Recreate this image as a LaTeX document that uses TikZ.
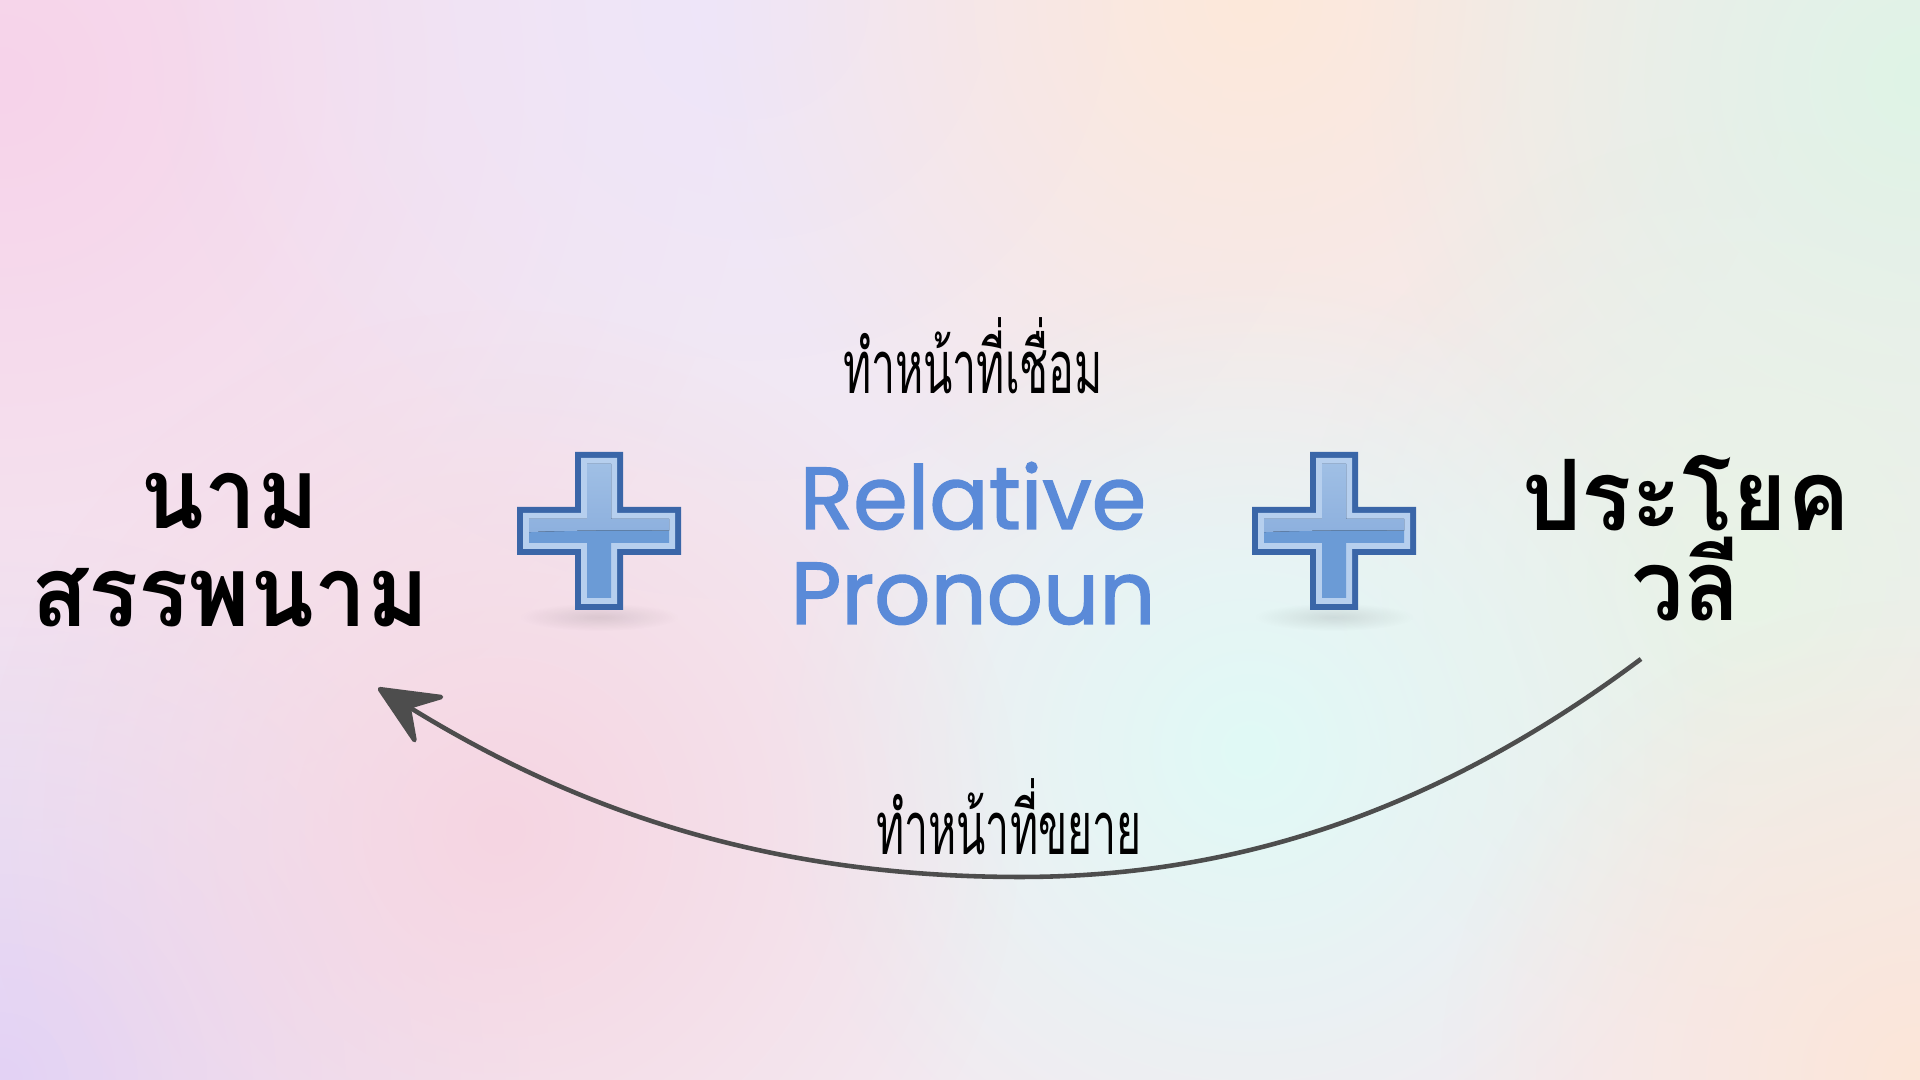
\documentclass[tikz,border=0pt]{standalone}
\usepackage{fontspec}
\usetikzlibrary{arrows.meta,fadings}
\newfontfamily\thaibig[Script=Thai,FakeStretch=0.95]{Loma}
\newfontfamily\thaihand[Script=Thai,FakeStretch=0.58]{Loma}
\newfontfamily\latinfont[FakeBold=1.6]{Poppins}
\definecolor{bgbase}{HTML}{F3EAF1}
\definecolor{bgpink}{HTML}{F7D3EA}
\definecolor{bglav}{HTML}{EEE5FA}
\definecolor{bgpeach}{HTML}{FDE8DA}
\definecolor{bgmint}{HTML}{DFF4E6}
\definecolor{bgcyan}{HTML}{E0FAF6}
\definecolor{bglavb}{HTML}{E3D2F5}
\definecolor{bgpinkb}{HTML}{F6D5E2}
\definecolor{bgpeachb}{HTML}{FCE6D8}
\definecolor{bggreen}{HTML}{E8F4E6}
\definecolor{plusdark}{HTML}{3A66A8}
\definecolor{pluslight}{HTML}{B6CFEE}
\definecolor{plusmid}{HTML}{6B9BD6}
\definecolor{plustop}{HTML}{A3C2E6}
\definecolor{plushi}{HTML}{8DB0DE}
\definecolor{relblue}{HTML}{5A8AD8}
\definecolor{arrowgray}{HTML}{4D4D4D}
\tikzfading[name=softfade, inner color=transparent!0, outer color=transparent!100]
\tikzset{
  blob/.style={fill=#1, path fading=softfade},
  bigthai/.style={font=\thaibig\bfseries\fontsize{28}{28}\selectfont, anchor=base, inner sep=0pt, text=black, text height=0.72em, text depth=0pt},
  smallthai/.style={font=\thaihand\fontsize{21}{21}\selectfont, anchor=base, inner sep=0pt, text=black},
  reltext/.style={font=\latinfont\fontsize{25}{25}\selectfont, anchor=base, inner sep=0pt, text=relblue},
  arrowline/.style={draw=arrowgray, line width=1.3pt, -{Stealth[length=20pt, width=18pt, inset=8pt, round]}},
  plusicon/.pic={
    \fill[black, opacity=0.10, path fading=softfade] (0,-86) ellipse (80 and 14);
    \fill[plusdark] (-24,79) -- (24,79) -- (24,24) -- (82,24) -- (82,-24) -- (24,-24) -- (24,-79) -- (-24,-79) -- (-24,-24) -- (-82,-24) -- (-82,24) -- (-24,24) -- cycle;
    \fill[pluslight] (-18,73) -- (18,73) -- (18,18) -- (76,18) -- (76,-18) -- (18,-18) -- (18,-73) -- (-18,-73) -- (-18,-18) -- (-76,-18) -- (-76,18) -- (-18,18) -- cycle;
    \begin{scope}
      \clip (-12,67) -- (12,67) -- (12,12) -- (70,12) -- (70,-12) -- (12,-12) -- (12,-67) -- (-12,-67) -- (-12,-12) -- (-70,-12) -- (-70,12) -- (-12,12) -- cycle;
      \fill[plusmid] (-90,-90) rectangle (90,90);
      \fill[top color=plustop, bottom color=plushi] (-90,-2) .. controls (-30,1) and (30,1) .. (90,0) -- (90,80) -- (-90,80) -- cycle;
    \end{scope}
  }
}
\begin{document}
\begin{tikzpicture}[x=0.01cm, y=0.01cm]
\useasboundingbox (0,0) rectangle (1920,1080);
% background
\begin{scope}
  \clip (0,0) rectangle (1920,1080);
  \fill[bgbase] (0,0) rectangle (1920,1080);
  \fill[blob=bgpink] (0,1000) circle (750);
  \fill[blob=bglav] (750,1080) circle (600);
  \fill[blob=bgpeach] (1250,1080) circle (550);
  \fill[blob=bgmint] (1920,1000) circle (550);
  \fill[blob=bggreen] (1750,500) circle (450);
  \fill[blob=bgcyan] (1250,330) circle (480);
  \fill[blob=bglavb] (0,0) circle (550);
  \fill[blob=bgpinkb] (500,250) circle (520);
  \fill[blob=bgpeachb] (1920,0) circle (480);
\end{scope}
% plus icons
\pic at (599,549) {plusicon};
\pic at (1334,549) {plusicon};
% texts
\node[bigthai] (nam1) at (230,551) {นาม};
\node[bigthai] (nam2) at (230,453) {สรรพนาม};
\node[bigthai] (pra1) at (1686,549) {ประโยค};
\node[bigthai] (pra2) at (1686,459) {วลี};
\node[reltext] (rel) at (973,551) {Relative};
\node[reltext] (pro) at (973,456) {Pronoun};
\node[smallthai] (link) at (973,686) {ทำหน้าที่เชื่อม};
\node[smallthai] (ext) at (1009,225) {ทำหน้าที่ขยาย};
% arrow
\coordinate (arrS) at (1641,421);
\coordinate (arrM) at (1020,203);
\coordinate (arrE) at (378,392);
\draw[arrowline] (arrS) .. controls (1450,278) and (1250,203) .. (arrM) .. controls (750,203) and (560,280) .. (arrE);
\end{tikzpicture}
\end{document}
